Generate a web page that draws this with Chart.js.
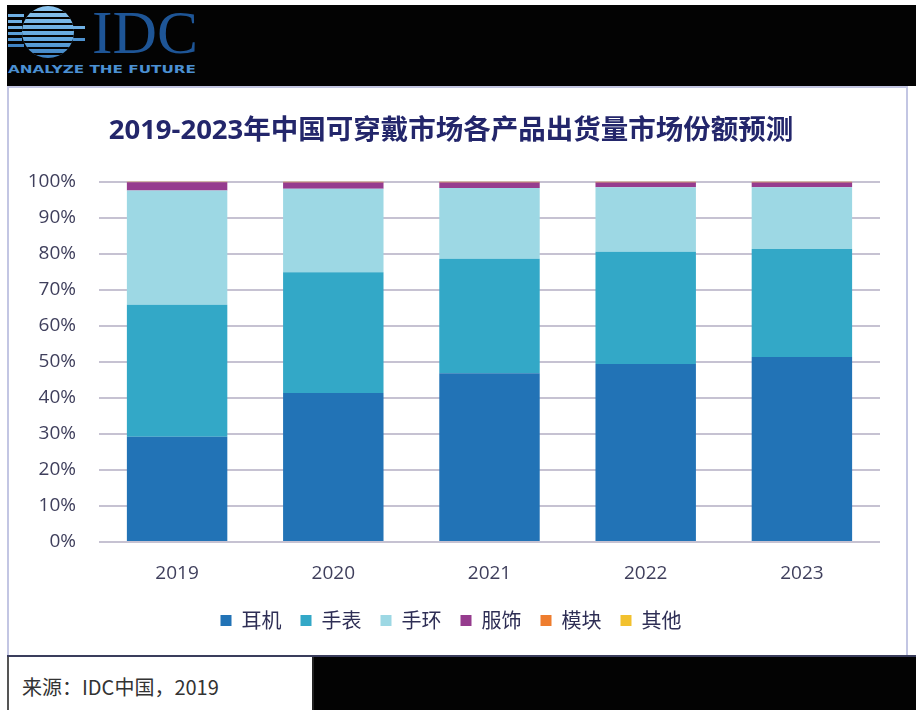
<!DOCTYPE html>
<html><head><meta charset="utf-8">
<script src="https://cdn.jsdelivr.net/npm/chart.js@4.4.0/dist/chart.umd.min.js"></script>
<style>
html,body{margin:0;padding:0;background:#fff;width:916px;height:710px;overflow:hidden;}
#hdr{position:absolute;left:7px;top:5px;width:909px;height:81px;background:#030303;}
#panel{position:absolute;left:7px;top:86px;width:897px;height:569px;border:2px solid #c3c6e3;border-bottom:none;background:#fff;}
#ftrline{position:absolute;left:7px;top:655px;width:909px;height:3px;background:#3a3d5c;}
#ftr{position:absolute;left:312px;top:657px;width:604px;height:53px;background:#030303;}
#srcbox{position:absolute;left:7px;top:657px;width:303px;height:53px;border-left:2px solid #555;border-right:2px solid #222;background:#fff;}
#src{position:absolute;left:22px;top:673px;font-family:"Noto Sans CJK SC","Open Sans",sans-serif;font-size:20px;color:#333;line-height:28px;white-space:nowrap;}
#wrap{position:absolute;left:0;top:0;width:916px;height:710px;}
#logo{position:absolute;left:7px;top:5px;}
</style></head>
<body>
<div id="hdr"></div>
<svg id="logo" width="200" height="80" viewBox="0 0 200 80">
  <defs>
    <clipPath id="gc"><circle cx="41" cy="27" r="26"/></clipPath>
    <linearGradient id="gg" x1="0" y1="0" x2="0" y2="1">
      <stop offset="0" stop-color="#8ec6ee"/>
      <stop offset="0.6" stop-color="#5fa4dc"/>
      <stop offset="1" stop-color="#2d6fb3"/>
    </linearGradient>
  </defs>
  <g clip-path="url(#gc)">
    <rect x="10" y="0" width="70" height="60" fill="url(#gg)"/>
    <rect x="10" y="6" width="70" height="2" fill="#030303"/>
    <rect x="10" y="12" width="70" height="2" fill="#030303"/>
    <rect x="10" y="18" width="70" height="2" fill="#030303"/>
    <rect x="10" y="24" width="70" height="2" fill="#030303"/>
    <rect x="10" y="30" width="70" height="2" fill="#030303"/>
    <rect x="10" y="36" width="70" height="2" fill="#030303"/>
    <rect x="10" y="42" width="70" height="2" fill="#030303"/>
    <rect x="10" y="48" width="70" height="2" fill="#030303"/>
  </g>
  <rect x="1" y="9" width="16" height="3" fill="#6fb0e4"/>
  <rect x="1" y="15" width="14" height="3" fill="#6fb0e4"/>
  <rect x="1" y="21" width="14" height="3" fill="#6fb0e4"/>
  <rect x="1" y="27" width="14" height="3" fill="#5b9fd8"/>
  <rect x="1" y="33" width="14" height="3" fill="#4d91cf"/>
  <rect x="1" y="39" width="16" height="3" fill="#3f83c4"/>
  <rect x="66" y="21" width="12" height="3" fill="#6fb0e4"/>
  <rect x="66" y="33" width="12" height="3" fill="#4d91cf"/>
  <text x="85" y="48" font-family="Liberation Serif, serif" font-size="62" fill="#1e5596" textLength="106" lengthAdjust="spacingAndGlyphs">IDC</text>
  <text x="1" y="68" font-family="DejaVu Sans, sans-serif" font-weight="bold" font-size="11" fill="#4b90d2" textLength="188" lengthAdjust="spacingAndGlyphs">ANALYZE THE FUTURE</text>
</svg>
<div id="panel"></div>
<div id="ftrline"></div>
<div id="ftr"></div>
<div id="srcbox"></div>
<div id="src">来源：IDC中国，2019</div>
<div id="wrap"><canvas id="c" width="916" height="710"></canvas></div>
<script>
const years = ['2019', '2020', '2021', '2022', '2023'];
const earphones = [29.2, 41.3, 46.8, 49.4, 51.3];
const watches = [36.6, 33.5, 31.8, 31.1, 30.0];
const bands = [31.7, 23.2, 19.6, 17.9, 17.1];
const apparel = [2.3, 1.7, 1.5, 1.3, 1.3];
const modules = [0.1, 0.2, 0.2, 0.2, 0.2];
const others = [0.1, 0.1, 0.1, 0.1, 0.1];
const seriesNames = ['耳机', '手表', '手环', '服饰', '模块', '其他'];
const seriesColors = ['#2273b6', '#33a8c7', '#9dd8e4', '#963c8e', '#ee7d2e', '#f2c12e'];
const yTicks = [0, 10, 20, 30, 40, 50, 60, 70, 80, 90, 100];
const chartTitle = '2019-2023年中国可穿戴市场各产品出货量市场份额预测';

const FONT = '"Open Sans", "Noto Sans CJK SC", sans-serif';
const seriesData = [earphones, watches, bands, apparel, modules, others];

new Chart(document.getElementById('c'), {
  type: 'bar',
  data: {
    labels: years,
    datasets: seriesData.map((d, i) => ({
      label: seriesNames[i],
      data: d,
      backgroundColor: seriesColors[i],
      borderWidth: 0,
      barPercentage: 0.643,
      categoryPercentage: 1.0
    }))
  },
  options: {
    responsive: false,
    animation: false,
    devicePixelRatio: 1,
    layout: { padding: { left: 22, right: 36, top: 0, bottom: 69.5 } },
    plugins: {
      title: {
        display: true,
        text: chartTitle,
        color: '#23266b',
        font: { family: FONT, size: 27.5, weight: 'bold' },
        padding: { top: 114.5, bottom: 34 }
      },
      legend: {
        position: 'bottom',
        labels: {
          boxWidth: 11,
          boxHeight: 11,
          padding: 19,
          color: '#2e2e55',
          font: { family: '"Noto Sans CJK SC", sans-serif', size: 20 }
        }
      },
      tooltip: { enabled: false }
    },
    scales: {
      x: {
        stacked: true,
        grid: { display: false, drawTicks: false },
        border: { display: false },
        ticks: { color: '#3f3f5c', font: { family: FONT, size: 19 }, padding: 20 },
        afterFit: s => { s.height = 49.5; }
      },
      y: {
        stacked: true,
        min: 0,
        max: 100,
        afterBuildTicks: s => { s.ticks = yTicks.map(v => ({ value: v })); },
        grid: { color: '#c6c2d2', lineWidth: 2, drawTicks: false },
        border: { display: false },
        ticks: { color: '#3f3f5c', font: { family: FONT, size: 19 }, padding: 23, callback: v => v + '%' },
        afterFit: s => { s.width = 77; }
      }
    }
  }
});
</script>
</body></html>
